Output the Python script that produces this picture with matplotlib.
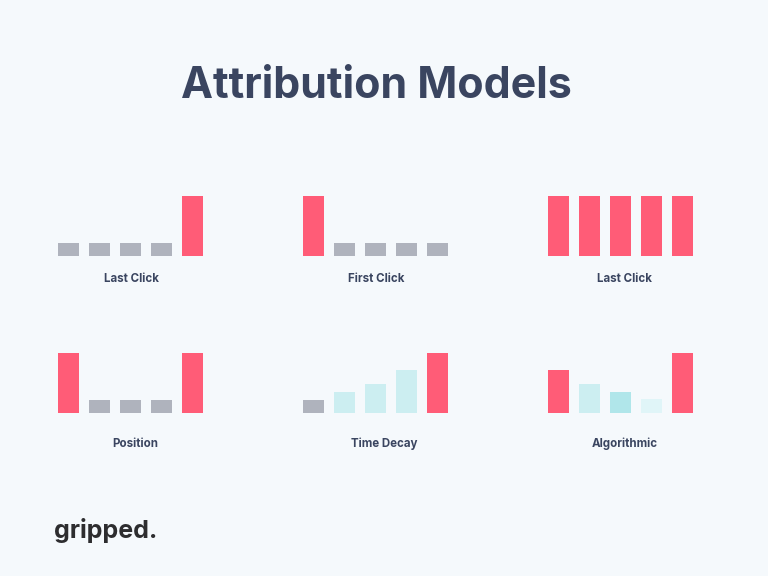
import matplotlib
matplotlib.use('Agg')
import matplotlib.pyplot as plt

plt.rcParams['font.family'] = ['Inter', 'DejaVu Sans']

RED = '#FF5C77'
GRAY = '#AFB3BD'
TEAL = '#CCEEF1'
TEAL_MID = '#B0E6EA'
TEAL_PALE = '#E0F5F8'
BG = '#F5F9FC'
INK = '#3A4560'

labels = ['Last Click', 'First Click', 'Last Click', 'Position', 'Time Decay', 'Algorithmic']

# bar heights, tallest bar = 60
last_click = [13, 13, 13, 13, 60]
first_click = [60, 13, 13, 13, 13]
linear = [60, 60, 60, 60, 60]
position = [60, 13, 13, 13, 60]
time_decay = [13, 21.5, 29, 43, 60]
algorithmic = [43, 29, 21.5, 14.5, 60]
values = [last_click, first_click, linear, position, time_decay, algorithmic]

colors = [
    [GRAY, GRAY, GRAY, GRAY, RED],
    [RED, GRAY, GRAY, GRAY, GRAY],
    [RED, RED, RED, RED, RED],
    [RED, GRAY, GRAY, GRAY, RED],
    [GRAY, TEAL, TEAL, TEAL, RED],
    [RED, TEAL, TEAL_MID, TEAL_PALE, RED],
]

W, H = 768, 576
fig = plt.figure(figsize=(W / 100, H / 100), dpi=100, facecolor=BG)

# panel layout in pixels: left edge, baseline, label centre x, label baseline y
panels = [
    (58, 256, 131, 282),
    (303, 256, 376, 282),
    (548, 256, 624.5, 282),
    (58, 413, 135, 447),
    (303, 413, 384, 447),
    (548, 413, 624.5, 447),
]

for (left, base, lx, ly), name, vals, cols in zip(panels, labels, values, colors):
    ax = fig.add_axes([left / W, 1 - base / H, 145 / W, 60 / H])
    ax.bar(range(5), vals, width=0.69, color=cols)
    ax.set_xlim(-0.345, 4.345)
    ax.set_ylim(0, 60)
    ax.axis('off')
    fig.text(lx / W, 1 - ly / H, name, ha='center', va='baseline',
             fontsize=8.3, fontweight='bold', color=INK)

fig.text(376 / W, 1 - 98 / H, 'Attribution Models', ha='center', va='baseline',
         fontsize=30.9, fontweight='bold', color=INK)
fig.text(54 / W, 1 - 538 / H, 'gripped.', ha='left', va='baseline',
         fontsize=18, fontweight='bold', color='#2D2D2F')

fig.savefig('out.png', dpi=100, facecolor=BG)
